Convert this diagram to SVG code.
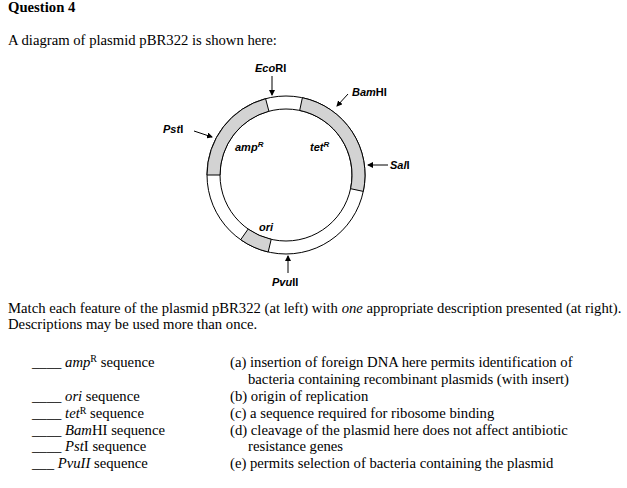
<svg xmlns="http://www.w3.org/2000/svg" width="627" height="488" viewBox="0 0 627 488">
<style>
.t{font-family:"Liberation Serif",serif;font-size:14.7px;fill:#000}
.l{font-family:"Liberation Sans",sans-serif;font-size:11px;font-weight:bold;font-style:italic;fill:#000}
.n{font-style:normal}
.seg{fill:#d3d3d3;stroke:#000;stroke-width:1}
.c{fill:none;stroke:#000;stroke-width:1}
.a{stroke:#000;stroke-width:1;fill:none;marker-end:url(#ar)}
.sup{font-size:10px}
</style>
<defs><marker id="ar" markerWidth="6" markerHeight="6" refX="5" refY="3" orient="auto"><path d="M0,0 L6,3 L0,6 Z" fill="#000"/></marker></defs>
<rect width="627" height="488" fill="#fff"/>
<text class="t" x="8" y="12" font-weight="bold">Question 4</text>
<text class="t" x="8" y="45">A diagram of plasmid pBR322 is shown here:</text>
<g id="plasmid">
<circle class="c" cx="286" cy="175" r="79"/>
<circle class="c" cx="286" cy="175" r="66"/>
<path id="amp" class="seg" d="M207,175 A79,79 0 0 1 265.6,98.7 L268.9,111.2 A66,66 0 0 0 220,175 Z"/>
<path id="tet" class="seg" d="M302.4,97.7 A79,79 0 0 1 363.3,191.4 L350.6,188.7 A66,66 0 0 0 299.7,110.4 Z"/>
<path id="ori" class="seg" d="M268.2,252 A79,79 0 0 1 240.7,239.7 L248.1,229.1 A66,66 0 0 0 271.2,239.3 Z"/>
<text class="l" x="235" y="151">amp<tspan font-size="8" dy="-4">R</tspan></text>
<text class="l" x="310" y="151">tet<tspan font-size="8" dy="-4">R</tspan></text>
<text class="l" x="259" y="231">ori</text>
</g>
<g id="sites">
<text class="l" x="255" y="72">Eco<tspan class="n">RI</tspan></text>
<text class="l" x="352" y="96">Bam<tspan class="n">HI</tspan></text>
<text class="l" x="163" y="133">Pst<tspan class="n">I</tspan></text>
<text class="l" x="390" y="169">Sal<tspan class="n">I</tspan></text>
<text class="l" x="272" y="286">Pvu<tspan class="n">II</tspan></text>
</g>
<g id="connectors">
<line class="a" x1="272" y1="76" x2="272" y2="95"/>
<line class="a" x1="348" y1="94" x2="337" y2="106"/>
<line class="a" x1="194" y1="131" x2="212" y2="137"/>
<line class="a" x1="388" y1="165" x2="368" y2="165"/>
<line class="a" x1="288" y1="273" x2="288" y2="256"/>
</g>
<text class="t" x="8" y="313">Match each feature of the plasmid pBR322 (at left) with <tspan font-style="italic">one</tspan> appropriate description presented (at right).</text>
<text class="t" x="8" y="329">Descriptions may be used more than once.</text>
<g>
<text class="t" x="32" y="367">____ <tspan font-style="italic">amp</tspan><tspan class="sup" dy="-5">R</tspan><tspan dy="5"> sequence</tspan></text>
<text class="t" x="32" y="401">____ <tspan font-style="italic">ori</tspan> sequence</text>
<text class="t" x="32" y="418">____ <tspan font-style="italic">tet</tspan><tspan class="sup" dy="-4">R</tspan><tspan dy="4"> sequence</tspan></text>
<text class="t" x="32" y="435">____ <tspan font-style="italic">Bam</tspan>HI sequence</text>
<text class="t" x="32" y="451">____ <tspan font-style="italic">Pst</tspan>I sequence</text>
<text class="t" x="32" y="468">___ <tspan font-style="italic">PvuII</tspan> sequence</text>
<text class="t" x="230" y="367">(a) insertion of foreign DNA here permits identification of</text>
<text class="t" x="248" y="384">bacteria containing recombinant plasmids (with insert)</text>
<text class="t" x="230" y="401">(b) origin of replication</text>
<text class="t" x="230" y="418">(c) a sequence required for ribosome binding</text>
<text class="t" x="230" y="435">(d) cleavage of the plasmid here does not affect antibiotic</text>
<text class="t" x="248" y="451">resistance genes</text>
<text class="t" x="230" y="468">(e) permits selection of bacteria containing the plasmid</text>
</g>
</svg>
